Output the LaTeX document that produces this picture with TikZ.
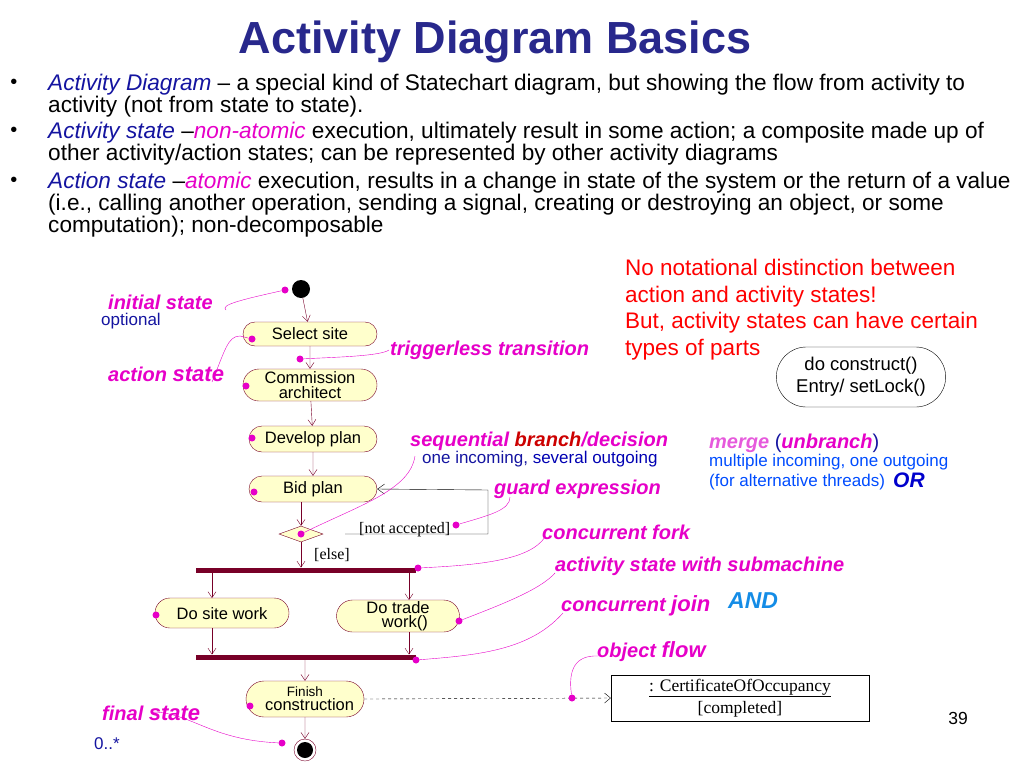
\documentclass[tikz,border=0pt]{standalone}
\usepackage{fontspec}
\setmainfont{Liberation Sans}
\newfontfamily\serifx{Liberation Serif}
\usetikzlibrary{shapes.geometric,shapes.misc,arrows.meta}
\definecolor{mag}{RGB}{230,0,200}
\definecolor{dblue}{RGB}{20,20,160}
\definecolor{ttl}{RGB}{40,40,140}
\definecolor{lnk}{RGB}{120,0,40}
\definecolor{fillY}{RGB}{255,255,204}
\definecolor{lpink}{RGB}{230,90,220}
\definecolor{cyanb}{RGB}{20,140,230}
\begin{document}
\begin{tikzpicture}[x=1pt,y=-1pt,
  act/.style={rounded rectangle,draw=lnk,fill=fillY,inner sep=1pt,font=\fontsize{16.5}{14.5}\selectfont,align=center},
  flow/.style={draw=lnk,-{Straight Barb[length=6pt,width=8pt]}},
  bar/.style={fill=lnk,minimum width=220pt,minimum height=5pt,inner sep=0pt},
  ann/.style={text=mag,font=\fontsize{20}{21}\bfseries\itshape\selectfont,anchor=west,inner sep=0pt},
  bl/.style={text=dblue,font=\fontsize{17}{18}\selectfont,anchor=west,inner sep=0pt},
  ptr/.style={draw=mag,thin},
  dot/.style={circle,fill=mag,inner sep=0pt,minimum size=7pt},
  bt/.style={anchor=north west,inner sep=0pt,font=\fontsize{22.6}{22}\selectfont,align=left}]
\useasboundingbox (0,0) rectangle (1024,768);
\node[text=ttl,font=\fontsize{45}{46}\bfseries\selectfont] (title) at (495,42) {Activity Diagram Basics};
\foreach \y in {84,132,182} \node[font=\fontsize{20}{20}\selectfont] at (14,\y) {•};
\node[bt] (b1) at (48,74) {\textcolor{dblue}{\itshape Activity Diagram} -- a special kind of Statechart diagram, but showing the flow from activity to\\activity (not from state to state).};
\node[bt] (b2) at (48,122) {\textcolor{dblue}{\itshape Activity state} --\textcolor{mag}{\itshape non-atomic} execution, ultimately result in some action; a composite made up of\\other activity/action states; can be represented by other activity diagrams};
\node[bt] (b3) at (48,172) {\textcolor{dblue}{\itshape Action state} --\textcolor{mag}{\itshape atomic} execution, results in a change in state of the system or the return of a value\\(i.e., calling another operation, sending a signal, creating or destroying an object, or some\\computation); non-decomposable};
\node[anchor=north west,text=red,inner sep=0pt,align=left,font=\fontsize{22.5}{26.7}\selectfont] (red) at (625,259) {No notational distinction between\\action and activity states!\\But, activity states can have certain\\types of parts};
\node[rounded rectangle,draw=black,minimum width=176pt,minimum height=60pt,align=center,font=\fontsize{18.5}{22}\selectfont] (part) at (861,377) {do construct()\\Entry/ setLock()};
% diagram
\node[circle,fill=black,minimum size=18pt,inner sep=0pt] (init) at (301,289) {};
\node[act,minimum width=136pt,minimum height=24pt] (sel) at (310,334) {Select site};
\node[act,minimum width=136pt,minimum height=32pt] (com) at (310,385) {Commission\\architect};
\node[act,minimum width=130pt,minimum height=26pt] (dev) at (313,439) {Develop plan};
\node[act,minimum width=130pt,minimum height=26pt] (bid) at (313,489) {Bid plan};
\node[diamond,draw=lnk,fill=fillY,minimum width=44pt,minimum height=16pt,inner sep=0pt,aspect=2.7] (dec) at (301,534) {};
\node[bar] (fork) at (306,570) {};
\node[act,minimum width=136pt,minimum height=30pt] (site) at (222,613) {\\[-2pt]Do site work};
\node[act,minimum width=125pt,minimum height=32pt] (trade) at (398,616) {Do trade\\\ \ \ work()};
\node[bar] (join) at (306,657) {};
\node[act,minimum width=120pt,minimum height=36pt,font=\fontsize{13.5}{14}\selectfont] (fin) at (305,699) {Finish\\\fontsize{16.5}{14}\selectfont\ \ construction};
\node[circle,draw=lnk,minimum size=22pt,inner sep=0pt] (final) at (305,750) {};
\node[circle,fill=black,minimum size=16pt,inner sep=0pt] at (final) {};
\node[draw=black,minimum width=258pt,minimum height=46pt,align=center,font=\serifx\fontsize{17.5}{22}\selectfont] (obj) at (740,698) {\underline{: CertificateOfOccupancy}\\{[completed]}};
\draw[flow] (init) -- (sel);
\draw[flow] (sel) -- (com);
\draw[flow] (com) -- (dev);
\draw[flow] (dev) -- (bid);
\draw[flow] (bid.south -| dec) -- (dec.north);
\draw[flow] (dec) -- (301,567.5);
\coordinate (lp) at (488,534);
\draw[black,-{Straight Barb[length=7pt,width=10pt]}] (345,534) -- (lp) -- (488,490) -- (bid.east);
\node[font=\serifx\fontsize{16}{16}\selectfont,inner sep=0pt,anchor=west] (na) at (359,530) {[not accepted]};
\node[font=\serifx\fontsize{16}{16}\selectfont,inner sep=0pt,anchor=west] (el) at (314,555) {[else]};
\draw[flow] (212,572.5) -- (212,598);
\draw[flow] (409,572.5) -- (409,600);
\draw[flow] (212,628) -- (212,654.5);
\draw[flow] (409,632) -- (409,654.5);
\draw[flow] (305,659.5) -- (fin);
\draw[flow] (fin) -- (final);
\draw[black,dashed,-{Straight Barb[length=6pt,width=10pt]}] (fin.east) -- (obj.west);
% annotations
\node[ann] (a1) at (108,302) {initial state};
\node[bl] (a1b) at (101,321) {optional};
\node[ann] (a2) at (108,374) {action {\fontsize{22}{22}\selectfont state}};
\node[ann] (a3) at (390,350) {triggerless transition};
\node[ann] (a4) at (410,441) {sequential \textcolor{red!80!black}{branch}/decision};
\node[bl] (a4b) at (422,459) {one incoming, \textcolor{blue!70!black}{several outgoing}};
\node[ann] (a5) at (494,489) {guard expression};
\node[ann] (a6) at (542,532) {concurrent fork};
\node[ann] (a7) at (555,566) {activity state with submachine};
\node[ann] (a8) at (561,606) {concurrent {\fontsize{22}{22}\selectfont join}};
\node[ann,text=cyanb,font=\fontsize{23}{23}\bfseries\itshape\selectfont] (and) at (728,601) {AND};
\node[ann] (a9) at (597,652) {object {\fontsize{22}{22}\selectfont flow}};
\node[ann] (a10) at (102,713) {final {\fontsize{22}{22}\selectfont state}};
\node[bl] (a10b) at (94,744) {0..*};
\node[ann,text=lpink] (m1) at (709,443) {merge \textcolor{dblue}{\upshape\mdseries(}\textcolor{mag}{unbranch}\textcolor{dblue}{\upshape\mdseries)}};
\node[bl,text=blue!70!cyan] (m2) at (709,462) {multiple incoming, one outgoing};
\node[bl,text=blue!70!cyan] (m3) at (709,482) {(for alternative threads)};
\node[ann,text=blue!80!black,font=\fontsize{21}{21}\bfseries\itshape\selectfont] (or) at (893,480) {OR};
\node[font=\fontsize{17.5}{17.5}\selectfont] (pg) at (958,718) {39};
% pointers
\node[dot] (d1) at (285,290) {};
\draw[ptr] (d1) .. controls (240,300) and (220,305) .. (226,310);
\node[dot] (d2) at (252,339) {};
\draw[ptr] (d2) -- (240,336) .. controls (228,336) and (225,350) .. (212,382);
\node[dot] (d3) at (300,359) {};
\draw[ptr] (d3) .. controls (340,357) and (380,356) .. (389,350);
\node[dot] (d4) at (301,534) {};
\draw[ptr] (d4) .. controls (360,505) and (410,490) .. (415,456);
\node[dot] (d5) at (456,525) {};
\draw[ptr] (d5) .. controls (490,515) and (510,510) .. (510,497);
\node[dot] (d6) at (418,568) {};
\draw[ptr] (d6) .. controls (480,565) and (530,560) .. (545,537);
\node[dot] (d7) at (459,621) {};
\draw[ptr] (d7) .. controls (500,605) and (540,590) .. (555,573);
\node[dot] (d8) at (416,660) {};
\draw[ptr] (d8) .. controls (480,655) and (530,650) .. (563,613);
\node[dot] (d9) at (572,698) {};
\draw[ptr] (d9) .. controls (568,670) and (575,655) .. (598,656);
\node[dot] (d10) at (282,743) {};
\draw[ptr] (d10) .. controls (210,740) and (190,712) .. (152,712);
\foreach \p in {(246,386),(252,438),(254,492),(156,615),(250,706)} \node[dot] at \p {};
\end{tikzpicture}
\end{document}
